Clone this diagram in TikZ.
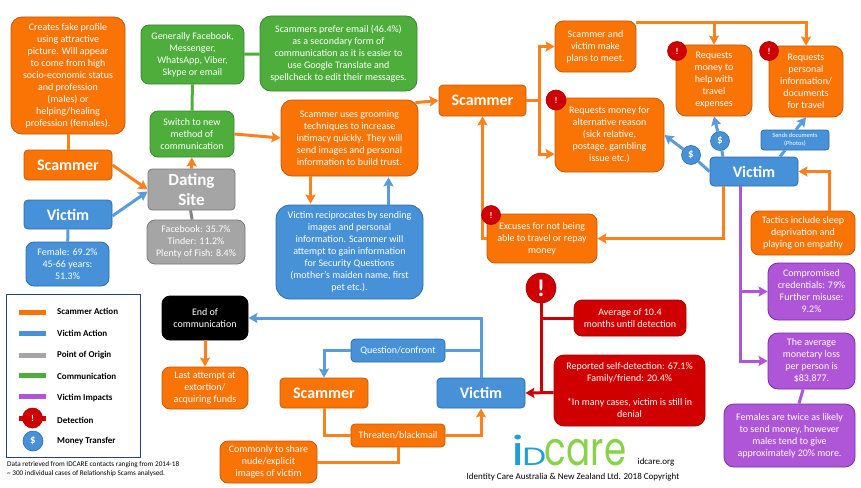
\documentclass[tikz,border=0pt]{standalone}
\usepackage{fontspec}
\setmainfont{Carlito}
\newfontfamily\logofont[FakeStretch=0.76]{Poppins}
\newfontfamily\logowide[FakeStretch=1.35]{Poppins}
\usepackage{tikz}
\usetikzlibrary{arrows.meta, positioning, shapes.geometric, calc}
\definecolor{scamfill}{RGB}{250, 115, 5}
\definecolor{scamedge}{RGB}{190, 90, 15}
\definecolor{vicfill}{RGB}{70, 145, 215}
\definecolor{vicedge}{RGB}{45, 110, 170}
\definecolor{sitefill}{RGB}{165, 165, 165}
\definecolor{siteedge}{RGB}{120, 120, 120}
\definecolor{commfill}{RGB}{78, 174, 60}
\definecolor{commedge}{RGB}{60, 130, 50}
\definecolor{impfill}{RGB}{175, 85, 215}
\definecolor{impedge}{RGB}{125, 40, 170}
\definecolor{alertfill}{RGB}{208, 0, 0}
\definecolor{alertedge}{RGB}{160, 0, 0}
\definecolor{legendedge}{RGB}{45, 65, 130}
\definecolor{logogreen}{RGB}{135, 210, 70}
\definecolor{logoblue}{RGB}{30, 160, 215}

\begin{document}
\begin{tikzpicture}[
  x=1pt, y=-1pt,
  box/.style={draw, line width=0.8pt, rounded corners=8pt, align=center, text=white,
              font=\fontsize{10}{12}\selectfont, inner sep=0pt},
  size/.style 2 args={minimum width=#1pt, minimum height=#2pt},
  scambox/.style={box, fill=scamfill, draw=scamedge},
  vicbox/.style={box, fill=vicfill, draw=vicedge},
  sitebox/.style={box, fill=sitefill, draw=siteedge},
  commbox/.style={box, fill=commfill, draw=commedge},
  impbox/.style={box, fill=impfill, draw=impedge},
  alertbox/.style={box, fill=alertfill, draw=alertedge},
  title/.style={rounded corners=4pt, font=\fontsize{16}{18}\selectfont\bfseries},
  alert/.style={circle, draw=alertedge, line width=0.6pt, fill=alertfill, text=white, inner sep=0pt,
                minimum size=19pt, font=\fontsize{9}{9}\selectfont\bfseries},
  dollar/.style={circle, draw=vicedge, line width=0.6pt, fill=vicfill, text=white, inner sep=0pt,
                 minimum size=19pt, font=\fontsize{11}{11}\selectfont\bfseries},
  arrowtip/.style={-{Stealth[length=9pt, width=10pt, inset=1.5pt]}},
  scamline/.style={line width=3pt, scamfill!90!white},
  vicline/.style={line width=3pt, vicfill!90!white},
  siteline/.style={line width=3pt, sitefill!80!black},
  commline/.style={line width=3pt, commfill},
  impline/.style={line width=3pt, impfill},
  alertline/.style={line width=3pt, alertfill},
  swatch/.style={minimum width=27pt, minimum height=5pt, inner sep=0pt},
  legendtext/.style={anchor=west, inner sep=0pt, font=\fontsize{9}{10}\selectfont\bfseries},
  smalltext/.style={anchor=west, inner sep=0pt, font=\fontsize{7.2}{8.5}\selectfont}
]
  \useasboundingbox (0, 0) rectangle (861, 487);

  % left column
  \node[scambox, size={114}{117}, rounded corners=11pt] (profile) at (68, 75.5) {Creates fake profile\\using attractive\\picture. Will appear\\to come from high\\socio-economic status\\and profession\\(males) or\\helping/healing\\profession (females).};
  \node[scambox, title, size={88}{30}] (scammera) at (68, 165) {Scammer};
  \node[vicbox, title, size={88}{29}] (victima) at (68, 214.5) {Victim};
  \node[vicbox, size={83}{44}] (vicstats) at (67.5, 264) {Female: 69.2\%\\45-66 years:\\51.3\%};
  \node[sitebox, title, size={87}{41}, font=\fontsize{17}{20}\selectfont\bfseries] (dating) at (191.5, 189.5) {Dating\\Site};
  \node[sitebox, size={98}{44}] (sitestats) at (196, 242) {Facebook: 35.7\%\\Tinder: 11.2\%\\Plenty of Fish: 8.4\%};

  % communication
  \node[commbox, size={84}{46}] (switch) at (192, 134) {Switch to new\\method of\\communication};
  \node[commbox, size={103}{59}] (general) at (192.5, 54.5) {Generally Facebook,\\Messenger,\\WhatsApp, Viber,\\Skype or email};
  \node[commbox, size={157}{75}, rounded corners=11pt] (email) at (338.5, 53.5) {Scammers prefer email (46.4\%)\\as a secondary form of\\communication as it is easier to\\use Google Translate and\\spellcheck to edit their messages.};
  \node[scambox, size={137}{76}, rounded corners=11pt] (groom) at (349.5, 138) {Scammer uses grooming\\techniques to increase\\intimacy quickly. They will\\send images and personal\\information to build trust.};
  \node[vicbox, size={147}{94}, rounded corners=14pt] (reciprocate) at (349.5, 252) {Victim reciprocates by sending\\images and personal\\information. Scammer will\\attempt to gain information\\for Security Questions\\(mother's maiden name, first\\pet etc.).};

  % top right
  \node[scambox, title, size={87}{31}] (scammerb) at (482.5, 100.5) {Scammer};
  \node[scambox, size={81}{51}] (plans) at (595.5, 46.5) {Scammer and\\victim make\\plans to meet.};
  \node[scambox, size={109}{74}, rounded corners=10pt] (altreq) at (609.5, 135) {Requests money for\\alternative reason\\(sick relative,\\postage, gambling\\issue etc.)};
  \node[scambox, size={76}{71}, rounded corners=10pt] (travel) at (714, 80.5) {Requests\\money to\\help with\\travel\\expenses};
  \node[scambox, size={74}{71}, rounded corners=10pt] (docs) at (806, 81.5) {Requests\\personal\\information/\\documents\\for travel};
  \node[vicbox, title, size={88}{29}] (victimb) at (754, 171.5) {Victim};
  \node[vicbox, size={68}{20}, rounded corners=3pt, font=\fontsize{6.3}{8}\selectfont] (senddocs) at (795, 140) {Sends documents\\(Photos)};
  \node[dollar] (dollarone) at (691, 155) {\$};
  \node[dollar] (dollartwo) at (720, 141) {\$};
  \node[scambox, size={110}{49}] (excuse) at (542, 238.5) {Excuses for not being\\able to travel or repay\\money};
  \node[scambox, size={104}{44}] (tactics) at (803, 233) {Tactics include sleep\\deprivation and\\playing on empathy};

  % victim impacts
  \node[impbox, size={87}{57}, rounded corners=10pt] (compromised) at (811.5, 291.5) {Compromised\\credentials: 79\%\\Further misuse:\\9.2\%};
  \node[impbox, size={87}{56}, rounded corners=10pt] (avgloss) at (811.5, 361) {The average\\monetary loss\\per person is\\\$83,877.};
  \node[impbox, size={131}{63}, rounded corners=10pt] (females) at (789.5, 435.5) {Females are twice as likely\\to send money, however\\males tend to give\\approximately 20\% more.};

  % bottom
  \node[box, fill=black, size={86}{44}] (endcomm) at (205, 318) {End of\\communication};
  \node[scambox, size={86}{42}] (lastattempt) at (205, 388) {Last attempt at\\extortion/\\acquiring funds};
  \node[vicbox, size={94}{23}, rounded corners=4pt] (question) at (398, 350.5) {Question/confront};
  \node[scambox, title, size={88}{30}] (scammerc) at (324, 393) {Scammer};
  \node[scambox, size={94}{23}, rounded corners=4pt] (threaten) at (398, 435.5) {Threaten/blackmail};
  \node[scambox, size={97}{42}] (share) at (268.5, 462) {Commonly to share\\nude/explicit\\images of victim};
  \node[vicbox, title, size={88}{30}] (victimc) at (481, 393) {Victim};
  \node[alertbox, size={112}{36}] (months) at (630, 318) {Average of 10.4\\months until detection};
  \node[alertbox, size={151}{71}, rounded corners=10pt] (reported) at (629.5, 390.5) {Reported self-detection: 67.1\%\\Family/friend: 20.4\%\\[12pt]*In many cases, victim is still in\\denial};

  % connectors
  \draw[scamline] (profile) -- (scammera);
  \draw[scamline, arrowtip] (scammera.east) -- (dating.west);
  \draw[vicline, arrowtip] ([yshift=-1.5pt]victima.east) -- ([yshift=-2pt]dating.west);
  \draw[vicline] (victima) -- (vicstats);
  \draw[scamline, arrowtip] (dating) -- (switch);
  \draw[siteline] ([xshift=-1pt]dating.south) -- (sitestats);
  \draw[commline] (switch) -- (general);
  \draw[commline] (general) -- (email);
  \draw[scamline, arrowtip] (switch.east) -- (groom.west);
  \draw[scamline, arrowtip] ([xshift=-39pt]groom.south) -- ([xshift=-39pt, yshift=1pt]reciprocate.north);
  \draw[vicline, arrowtip] ([xshift=39pt]reciprocate.north) -- ([xshift=39pt, yshift=-1pt]groom.south);
  \draw[scamline, arrowtip] ([xshift=66pt, yshift=-3pt]groom.north) -- (scammerb.west);
  \draw[scamline, arrowtip] (scammerb.east) -- ++(13, 0) |- (plans.west);
  \draw[scamline, arrowtip] (scammerb.east) -- ++(13, 0) |- ([yshift=-19pt]altreq.west);
  \draw[scamline, arrowtip] ([yshift=23.5pt]plans.east) -| (travel.north);
  \draw[scamline, arrowtip] ([yshift=23.5pt]plans.east) -| (docs.north);
  \draw[vicline] (victimb.west) -- (dollarone);
  \draw[vicline, arrowtip] (dollarone) -- (altreq.east);
  \draw[vicline] ([xshift=-31pt]victimb.north) -- (dollartwo);
  \draw[vicline, arrowtip] (dollartwo) -- (travel.south);
  \draw[vicline] ([xshift=26pt]victimb.north) -- ([xshift=-10pt]senddocs.south);
  \draw[vicline, arrowtip] ([xshift=1pt]senddocs.north) -- (docs.south);
  \draw[scamline, arrowtip] ([xshift=26pt]tactics.north) |- (victimb.east);
  \draw[scamline, arrowtip] ([xshift=-31pt]victimb.south) |- (excuse.east);
  \draw[scamline, arrowtip] (excuse.west) -| (scammerb.south);
  \draw[impline, arrowtip] ([xshift=-14pt]victimb.south) |- (compromised.west);
  \draw[impline, arrowtip] ([xshift=-14pt]victimb.south) |- (avgloss.west);
  \draw[impline] (avgloss) -- (females);
  \draw[vicline, arrowtip] (victimc.north) |- (endcomm.east);
  \draw[vicline] (question.east) -| (victimc.north);
  \draw[vicline, arrowtip] (question.west) -| (scammerc.north);
  \draw[scamline] (scammerc.south) |- (threaten.west);
  \draw[scamline, arrowtip] (threaten.east) -| (victimc.south);
  \draw[scamline] (share.east) -| (threaten.south);
  \draw[scamline, arrowtip] (endcomm) -- (lastattempt);
  \node[alert, minimum size=30pt, font=\fontsize{24}{24}\selectfont\bfseries] (bigalert) at (541, 288) {!};
  \draw[alertline, arrowtip] ([yshift=-2pt]reported.west) -- (victimc.east);
  \coordinate (alertjoin) at (541, 392);
  \draw[alertline] (bigalert) -- (alertjoin);
  \draw[alertline] (months.west) -- (months.west -| bigalert);

  % alerts on boxes
  \node[alert, minimum size=20pt] (alertalt) at (556, 100) {!};
  \node[alert] (alerttravel) at (677, 51) {!};
  \node[alert] (alertdocs) at (769, 51) {!};
  \node[alert] (alertexcuse) at (491, 215) {!};

  % legend
  \node[draw=legendedge, line width=0.9pt, minimum width=134pt, minimum height=163pt, inner sep=0pt] (legend) at (73, 375.5) {};
  \node[swatch, fill=scamfill] (keyscam) at (32.5, 312) {};
  \node[legendtext] at (57, 311) {Scammer Action};
  \node[swatch, fill=vicfill] (keyvic) at (32.5, 333.5) {};
  \node[legendtext] at (57, 333) {Victim Action};
  \node[swatch, fill=sitefill] (keysite) at (32.5, 355) {};
  \node[legendtext] at (57, 355) {Point of Origin};
  \node[swatch, fill=commfill] (keycomm) at (32.5, 375.5) {};
  \node[legendtext] at (57, 376) {Communication};
  \node[swatch, fill=impfill] (keyimp) at (32.5, 396.5) {};
  \node[legendtext] at (57, 398) {Victim Impacts};
  \node[swatch, fill=alertfill] (keyalert) at (32.5, 418.5) {};
  \node[alert, minimum size=20pt] (keyalertdot) at (32.5, 418) {!};
  \node[legendtext] at (57, 420) {Detection};
  \node[dollar, minimum size=20pt] (keydollar) at (33, 441) {\$};
  \node[legendtext] at (57, 441) {Money Transfer};

  \node[smalltext, align=left] (datanote) at (7, 469) {Data retrieved from IDCARE contacts ranging from 2014-18\\\textasciitilde{} 300 individual cases of Relationship Scams analysed.};

  % logo
  \node[anchor=base west, inner sep=0pt, font=\logofont\fontsize{47}{47}\selectfont] (logo) at (511, 465) {\textcolor{logoblue}{\logowide\fontsize{40}{40}\selectfont i\kern-2pt\fontsize{25}{25}\selectfont D}\kern-1.5pt\textcolor{logogreen}{care}};
  \node[font=\fontsize{9}{10}\selectfont, inner sep=0pt] (weblink) at (656, 462) {idcare.org};
  \node[font=\fontsize{9}{10}\selectfont, inner sep=0pt] (copyright) at (573, 477) {Identity Care Australia \& New Zealand Ltd. 2018 Copyright};
\end{tikzpicture}
\end{document}
